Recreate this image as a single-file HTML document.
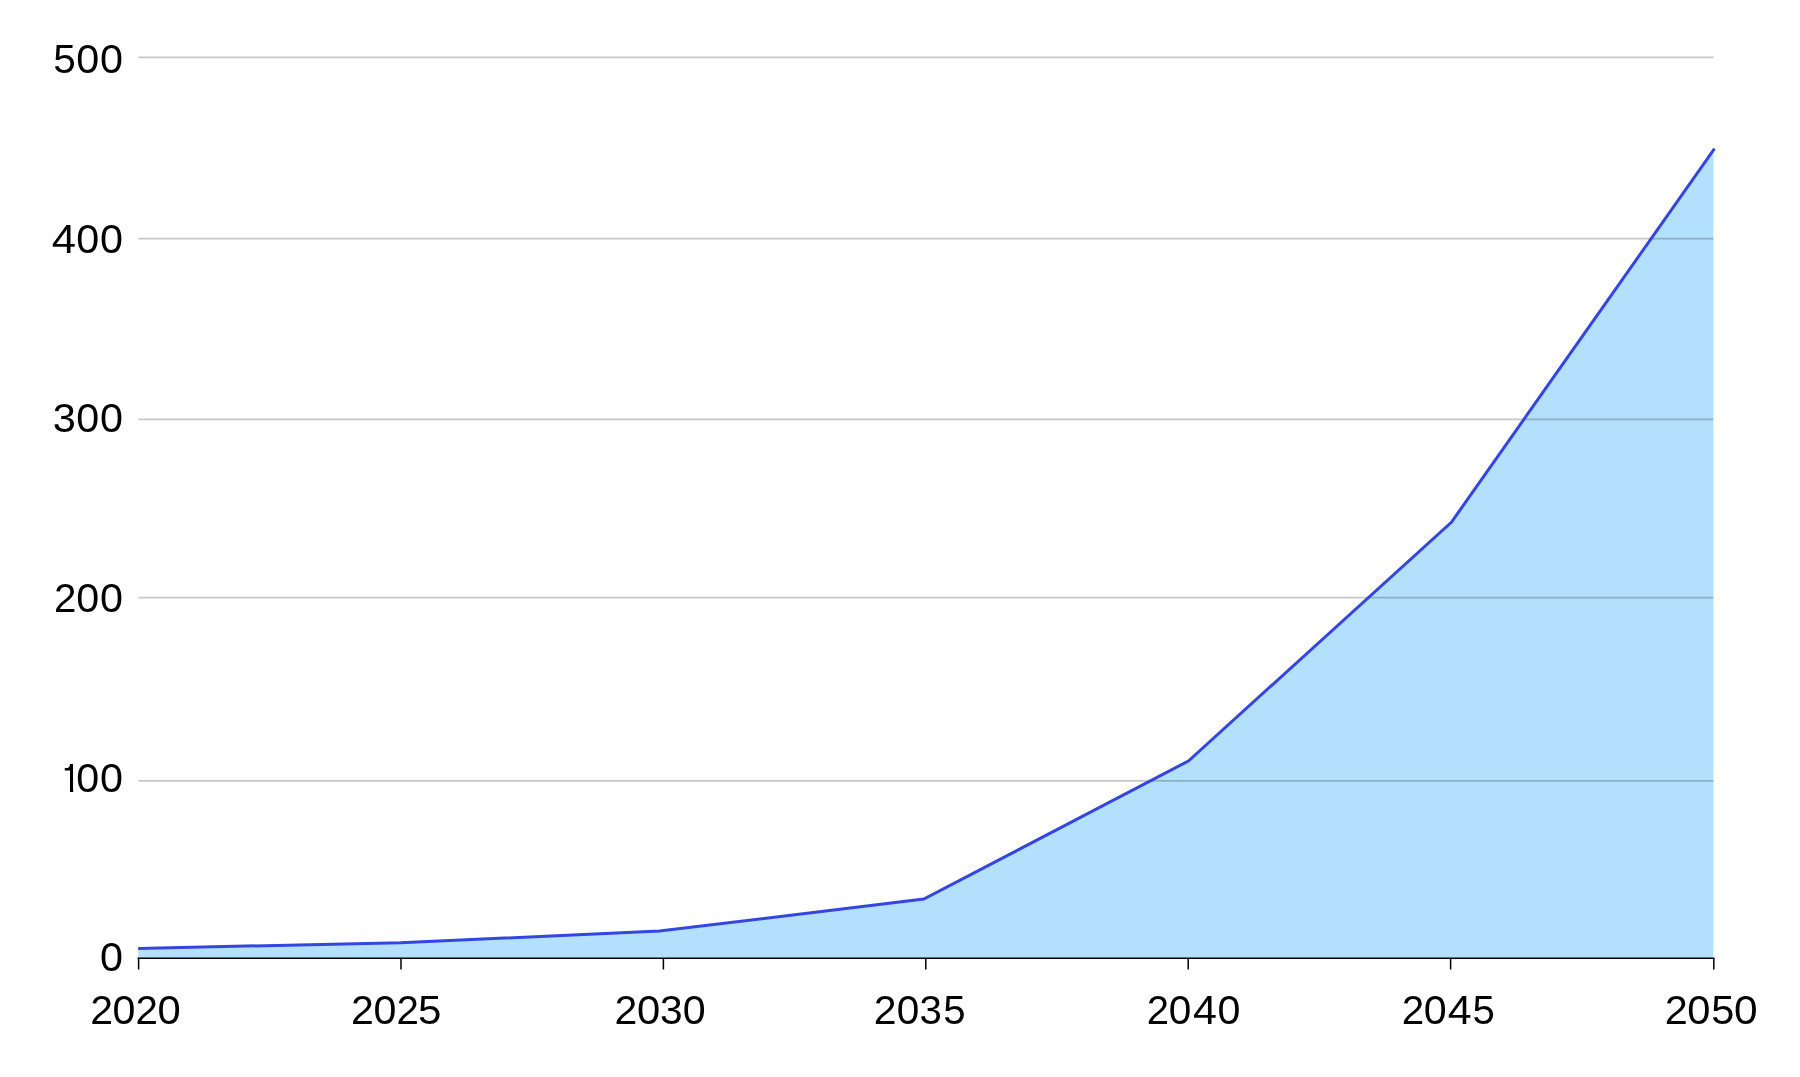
<!DOCTYPE html>
<html><head><meta charset="utf-8"><style>
html,body{margin:0;padding:0;background:#fff;overflow:hidden;}
svg{display:block;}
text{font-family:"Liberation Sans",sans-serif;font-size:40px;fill:#000;}
</style></head><body>
<svg width="1800" height="1077" viewBox="0 0 1800 1077">
<polygon points="138.2,948.4 400.5,942.7 659.5,931.1 923.8,899.1 1188.4,761.0 1451.6,522.0 1713.4,150.26 1713.4,958.3 138.2,958.3" fill="#b3e0fc"/>
<line x1="138.3" y1="57.4" x2="1713.5" y2="57.4" stroke="rgba(0,0,0,0.22)" stroke-width="1.8"/>
<line x1="138.3" y1="238.6" x2="1713.5" y2="238.6" stroke="rgba(0,0,0,0.22)" stroke-width="1.8"/>
<line x1="138.3" y1="419.3" x2="1713.5" y2="419.3" stroke="rgba(0,0,0,0.22)" stroke-width="1.8"/>
<line x1="138.3" y1="597.7" x2="1713.5" y2="597.7" stroke="rgba(0,0,0,0.22)" stroke-width="1.8"/>
<line x1="138.3" y1="780.8" x2="1713.5" y2="780.8" stroke="rgba(0,0,0,0.22)" stroke-width="1.8"/>
<polyline points="138.2,948.4 400.5,942.7 659.5,931.1 923.8,899.1 1188.4,761.0 1451.6,522.0 1714.5,148.7" fill="none" stroke="#3545e0" stroke-width="3" stroke-linejoin="miter"/>
<line x1="137.6" y1="958.3" x2="1714.5" y2="958.3" stroke="#000" stroke-width="1.5"/>
<line x1="138.6" y1="958.3" x2="138.6" y2="969.5" stroke="#000" stroke-width="1.5"/>
<line x1="401.0" y1="958.3" x2="401.0" y2="969.5" stroke="#000" stroke-width="1.5"/>
<line x1="663.4" y1="958.3" x2="663.4" y2="969.5" stroke="#000" stroke-width="1.5"/>
<line x1="925.8" y1="958.3" x2="925.8" y2="969.5" stroke="#000" stroke-width="1.5"/>
<line x1="1188.2" y1="958.3" x2="1188.2" y2="969.5" stroke="#000" stroke-width="1.5"/>
<line x1="1450.6" y1="958.3" x2="1450.6" y2="969.5" stroke="#000" stroke-width="1.5"/>
<line x1="1713.8" y1="958.3" x2="1713.8" y2="969.5" stroke="#000" stroke-width="1.5"/>
<g style="opacity:0.999">
<text transform="matrix(1.0168 0 0 1 53.14 72.65)">5</text>
<text transform="matrix(1.0318 0 0 1 76.29 72.65)">0</text>
<text transform="matrix(1.0344 0 0 1 100.04 72.65)">0</text>
<text transform="matrix(1.0901 0 0 1 51.77 252.55)">4</text>
<text transform="matrix(1.0318 0 0 1 76.29 252.55)">0</text>
<text transform="matrix(1.0344 0 0 1 100.04 252.55)">0</text>
<text transform="matrix(1.0383 0 0 1 52.80 432.45)">3</text>
<text transform="matrix(1.0318 0 0 1 76.29 432.45)">0</text>
<text transform="matrix(1.0344 0 0 1 100.04 432.45)">0</text>
<text transform="matrix(1.0094 0 0 1 53.98 611.95)">2</text>
<text transform="matrix(1.0318 0 0 1 76.29 611.95)">0</text>
<text transform="matrix(1.0344 0 0 1 100.04 611.95)">0</text>
<clipPath id="stem1"><rect x="69.95" y="762.20" width="3.25" height="29.75"/></clipPath><g clip-path="url(#stem1)"><text transform="matrix(0.9193 0 0 1 60.70 791.95)">1</text></g><path d="M70.95 770.40 L64.80 770.60 L64.80 768.10 L67.50 767.90 C68.90 767.60 69.75 766.50 69.95 764.40 L70.95 764.40 Z"/>
<text transform="matrix(1.0318 0 0 1 76.29 791.95)">0</text>
<text transform="matrix(1.0344 0 0 1 100.04 791.95)">0</text>
<text transform="matrix(1.0344 0 0 1 100.04 971.10)">0</text>
<text transform="matrix(1.0256 0 0 1 90.15 1023.70)">2</text>
<text transform="matrix(1.0293 0 0 1 112.45 1023.70)">0</text>
<text transform="matrix(1.0094 0 0 1 135.48 1023.70)">2</text>
<text transform="matrix(1.0447 0 0 1 157.62 1023.70)">0</text>
<text transform="matrix(1.0256 0 0 1 350.95 1023.70)">2</text>
<text transform="matrix(1.0293 0 0 1 373.55 1023.70)">0</text>
<text transform="matrix(1.0094 0 0 1 396.58 1023.70)">2</text>
<text transform="matrix(1.0541 0 0 1 417.97 1023.70)">5</text>
<text transform="matrix(1.0256 0 0 1 614.45 1023.70)">2</text>
<text transform="matrix(1.0447 0 0 1 636.92 1023.70)">0</text>
<text transform="matrix(1.0170 0 0 1 659.94 1023.70)">3</text>
<text transform="matrix(1.0293 0 0 1 682.75 1023.70)">0</text>
<text transform="matrix(1.0256 0 0 1 873.65 1023.70)">2</text>
<text transform="matrix(1.0138 0 0 1 896.67 1023.70)">0</text>
<text transform="matrix(1.0064 0 0 1 919.56 1023.70)">3</text>
<text transform="matrix(1.0062 0 0 1 943.26 1023.70)">5</text>
<text transform="matrix(1.0039 0 0 1 1146.69 1023.70)">2</text>
<text transform="matrix(1.0138 0 0 1 1168.87 1023.70)">0</text>
<text transform="matrix(1.0754 0 0 1 1192.98 1023.70)">4</text>
<text transform="matrix(1.0293 0 0 1 1217.55 1023.70)">0</text>
<text transform="matrix(1.0094 0 0 1 1401.68 1023.70)">2</text>
<text transform="matrix(1.0293 0 0 1 1423.85 1023.70)">0</text>
<text transform="matrix(1.0754 0 0 1 1447.68 1023.70)">4</text>
<text transform="matrix(1.0062 0 0 1 1472.56 1023.70)">5</text>
<text transform="matrix(1.0365 0 0 1 1664.82 1023.70)">2</text>
<text transform="matrix(1.0396 0 0 1 1687.33 1023.70)">0</text>
<text transform="matrix(1.0381 0 0 1 1711.20 1023.70)">5</text>
<text transform="matrix(1.0601 0 0 1 1734.00 1023.70)">0</text>
</g>
</svg>
</body></html>
